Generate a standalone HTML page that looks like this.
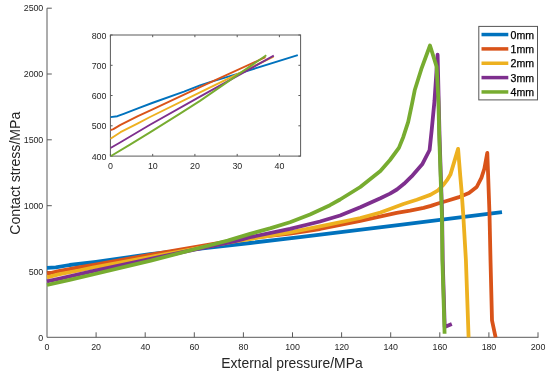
<!DOCTYPE html>
<html><head><meta charset="utf-8"><title>Contact stress</title>
<style>html,body{margin:0;padding:0;background:#fff}svg{display:block}text{font-family:"Liberation Sans",Arial,sans-serif}</style></head><body>
<svg width="550" height="380" viewBox="0 0 550 380" fill="#262626">
<rect width="550" height="380" fill="#fff"/>
<g stroke="#5a5a5a" stroke-width="1" fill="none">
<path d="M47.0,8.2 V337.3 H538.4"/>
<path d="M96.1,337.3 v-5"/>
<path d="M145.2,337.3 v-5"/>
<path d="M194.3,337.3 v-5"/>
<path d="M243.4,337.3 v-5"/>
<path d="M292.5,337.3 v-5"/>
<path d="M341.6,337.3 v-5"/>
<path d="M390.7,337.3 v-5"/>
<path d="M439.8,337.3 v-5"/>
<path d="M488.9,337.3 v-5"/>
<path d="M538.0,337.3 v-5"/>
<path d="M47.0,271.5 h4.8"/>
<path d="M47.0,205.7 h4.8"/>
<path d="M47.0,139.8 h4.8"/>
<path d="M47.0,74.0 h4.8"/>
<path d="M47.0,8.2 h4.8"/>
</g>
<g font-size="8.9" letter-spacing="-0.15" text-anchor="middle">
<text x="47.0" y="350.3">0</text>
<text x="96.1" y="350.3">20</text>
<text x="145.2" y="350.3">40</text>
<text x="194.3" y="350.3">60</text>
<text x="243.4" y="350.3">80</text>
<text x="292.5" y="350.3">100</text>
<text x="341.6" y="350.3">120</text>
<text x="390.7" y="350.3">140</text>
<text x="439.8" y="350.3">160</text>
<text x="488.9" y="350.3">180</text>
<text x="538.0" y="350.3">200</text>
</g>
<g font-size="8.9" letter-spacing="-0.15" text-anchor="end">
<text x="43" y="340.5">0</text>
<text x="43" y="274.7">500</text>
<text x="43" y="208.9">1000</text>
<text x="43" y="143.0">1500</text>
<text x="43" y="77.2">2000</text>
<text x="43" y="11.4">2500</text>
</g>
<text x="292" y="367.6" font-size="13.9" text-anchor="middle" fill="#262626">External pressure/MPa</text>
<text transform="translate(19.8,173.2) rotate(-90)" font-size="14.1" text-anchor="middle" fill="#262626">Contact stress/MPa</text>
<g fill="none" stroke-width="3.8" stroke-linejoin="round" stroke-linecap="butt">
<polyline stroke="#0072BD" points="47.0,267.8 55.8,267.4 69.7,265.0 96.0,261.8 150.0,254.2 250.0,243.0 300.0,237.2 400.0,224.8 502.0,212.1"/>
<polyline stroke="#D95319" points="47.0,273.5 50.4,273.0 58.6,271.2 78.8,267.4 95.2,264.5 150.8,254.7 226.8,241.5 250.0,238.0 290.0,233.5 320.0,229.0 360.3,220.8 396.7,212.9 410.0,210.6 423.6,207.9 430.9,205.9 438.0,203.5 447.3,200.7 458.2,197.4 469.0,192.9 476.7,187.0 481.4,177.8 484.4,168.5 487.3,152.8 488.3,180.0 489.5,214.0 490.5,260.0 492.0,320.4 495.6,337.4"/>
<polyline stroke="#EDB120" points="47.0,277.3 58.6,274.4 78.8,270.5 92.8,267.7 150.8,256.9 236.2,241.2 250.0,239.0 290.0,232.3 320.0,226.3 360.3,218.0 380.4,212.5 390.0,209.0 403.4,204.0 416.8,199.8 430.3,194.9 438.1,190.4 443.0,185.3 447.0,180.2 450.4,174.6 458.1,148.9 460.3,176.3 461.5,190.0 463.2,214.2 465.9,260.0 468.6,337.4"/>
<polyline stroke="#7E2F8E" points="47.0,281.3 58.6,278.8 92.8,271.2 150.8,258.8 236.4,240.8 250.0,237.2 290.0,228.8 320.0,221.5 340.1,215.5 360.3,207.3 380.4,198.3 390.0,193.6 396.9,189.5 404.0,183.8 411.6,176.4 422.2,164.3 429.6,150.0 431.7,130.0 434.5,100.8 437.6,54.7 438.7,100.8 439.5,135.0 442.1,215.0 442.7,260.0 444.7,326.9 451.8,324.0"/>
<polyline stroke="#77AC30" points="47.0,285.0 69.6,279.8 92.8,274.5 127.6,266.2 150.8,260.7 197.4,248.5 227.7,240.6 250.0,233.9 270.0,228.4 290.0,222.3 310.0,214.4 330.0,205.2 340.1,199.5 360.3,187.0 380.4,171.0 390.0,160.0 398.9,147.9 403.4,136.7 408.2,121.8 412.1,103.4 414.7,90.3 421.3,69.2 430.0,45.5 436.6,66.6 438.4,100.8 439.2,135.0 441.9,215.0 442.4,260.0 444.6,333.8"/>
</g>
<rect x="110.4" y="35.0" width="190.2" height="121.1" fill="#fff" stroke="#5a5a5a" stroke-width="1"/>
<g stroke="#5a5a5a" stroke-width="1" fill="none">
<path d="M110.4,156.1 v-2.2 M110.4,35.0 v2.2"/>
<path d="M152.7,156.1 v-2.2 M152.7,35.0 v2.2"/>
<path d="M194.9,156.1 v-2.2 M194.9,35.0 v2.2"/>
<path d="M237.2,156.1 v-2.2 M237.2,35.0 v2.2"/>
<path d="M279.4,156.1 v-2.2 M279.4,35.0 v2.2"/>
<path d="M110.4,156.1 h2.2 M300.6,156.1 h-2.2"/>
<path d="M110.4,125.8 h2.2 M300.6,125.8 h-2.2"/>
<path d="M110.4,95.5 h2.2 M300.6,95.5 h-2.2"/>
<path d="M110.4,65.3 h2.2 M300.6,65.3 h-2.2"/>
<path d="M110.4,35.0 h2.2 M300.6,35.0 h-2.2"/>
</g>
<g font-size="8.9" letter-spacing="-0.15" text-anchor="middle">
<text x="110.4" y="169.0">0</text>
<text x="152.7" y="169.0">10</text>
<text x="194.9" y="169.0">20</text>
<text x="237.2" y="169.0">30</text>
<text x="279.4" y="169.0">40</text>
</g>
<g font-size="8.9" letter-spacing="-0.15" text-anchor="end">
<text x="106.2" y="159.6">400</text>
<text x="106.2" y="129.3">500</text>
<text x="106.2" y="99.0">600</text>
<text x="106.2" y="68.8">700</text>
<text x="106.2" y="38.5">800</text>
</g>
<g fill="none" stroke-width="1.9" stroke-linejoin="round" stroke-linecap="butt">
<polyline stroke="#0072BD" points="110.5,117.1 117.4,116.2 123.7,113.8 137.9,108.3 152.1,103.0 184.0,91.6 200.0,85.4 210.0,82.1 240.0,73.1 297.8,55.2"/>
<polyline stroke="#D95319" points="110.5,130.1 113.4,129.1 120.5,124.9 137.9,116.2 152.1,109.7 200.0,87.2 265.5,57.2"/>
<polyline stroke="#EDB120" points="110.5,138.7 120.5,132.2 137.9,123.3 150.0,117.0 200.0,92.4 273.6,56.6"/>
<polyline stroke="#7E2F8E" points="110.5,148.0 120.5,142.2 150.0,124.8 200.0,96.7 273.8,55.7"/>
<polyline stroke="#77AC30" points="111.0,156.0 130.0,144.6 150.0,132.4 180.0,113.6 200.0,100.9 240.2,73.1 266.3,55.2"/>
</g>
<rect x="478.8" y="26.4" width="58.7" height="73.5" fill="#fff" stroke="#555" stroke-width="1"/>
<g stroke-width="3.5">
<line x1="481.5" x2="508.3" y1="34.55" y2="34.55" stroke="#0072BD"/>
<line x1="481.5" x2="508.3" y1="48.90" y2="48.90" stroke="#D95319"/>
<line x1="481.5" x2="508.3" y1="63.25" y2="63.25" stroke="#EDB120"/>
<line x1="481.5" x2="508.3" y1="77.60" y2="77.60" stroke="#7E2F8E"/>
<line x1="481.5" x2="508.3" y1="91.95" y2="91.95" stroke="#77AC30"/>
</g>
<g font-size="10.6" fill="#000" stroke="#000" stroke-width="0.25">
<text x="510.6" y="38.6">0mm</text>
<text x="510.6" y="53.0">1mm</text>
<text x="510.6" y="67.3">2mm</text>
<text x="510.6" y="81.7">3mm</text>
<text x="510.6" y="96.0">4mm</text>
</g>
</svg></body></html>
